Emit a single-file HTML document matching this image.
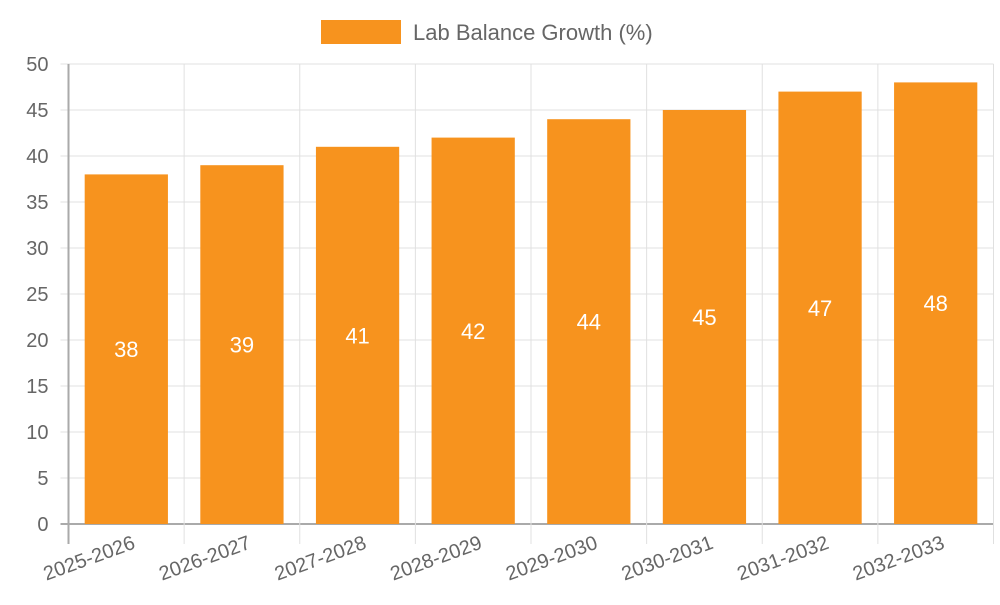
<!DOCTYPE html>
<html><head><meta charset="utf-8"><style>
body{margin:0;background:#fff}
svg text{font-family:"Liberation Sans",sans-serif}
</style></head><body>
<svg id="chart" width="1000" height="600" xmlns="http://www.w3.org/2000/svg">
<rect x="321" y="20" width="80" height="24" fill="#F7931E"/>
<text x="413" y="40" font-size="22" fill="#666">Lab Balance Growth (%)</text>
<g id="grid"></g><g id="bars"></g><g id="labels"></g>
</svg>
<script>
const categories=["2025-2026","2026-2027","2027-2028","2028-2029","2029-2030","2030-2031","2031-2032","2032-2033"];
const values=[38,39,41,42,44,45,47,48];
const yTicks=[0,5,10,15,20,25,30,35,40,45,50];
const NS="http://www.w3.org/2000/svg";
const L=68.5,R=993.5,T=64,B=524,yMax=50;
const bw=(R-L)/categories.length;
const y=v=>B-(v/yMax)*(B-T);
const x=i=>L+i*bw;
function mk(tag,attrs,parent,txt){const e=document.createElementNS(NS,tag);for(const k in attrs)e.setAttribute(k,attrs[k]);if(txt!==undefined)e.textContent=txt;document.getElementById(parent).appendChild(e);return e;}
yTicks.forEach(t=>{
 const l=mk('line',{x1:L-8,x2:R,y1:y(t),y2:y(t),stroke:t===0?'#aaa':'#e0e0e0','stroke-width':t===0?2:1},'grid');
 
 
 const tx=mk('text',{x:L-20,y:y(t)+7,'text-anchor':'end','font-size':20,fill:'#666'},'grid',t);
 
 
});
for(let i=0;i<=categories.length;i++){
 const l=mk('line',{x1:x(i),x2:x(i),y1:T,y2:B+20,stroke:i===0?'#aaa':'#e0e0e0','stroke-width':i===0?2:1},'grid');
 
 
}
categories.forEach((c,i)=>{
 const w=bw*0.72,cx=x(i)+bw/2;
 const r=mk('rect',{x:cx-w/2,y:y(values[i]),width:w,height:B-y(values[i]),fill:'#F7931E'},'bars');
 
 
 const v=mk('text',{x:cx,y:(y(values[i])+B)/2+8,'text-anchor':'middle','font-size':22,fill:'#fff'},'labels',values[i]);
 
 
 const lx=cx+10,ly=548;
 const t=mk('text',{x:lx,y:ly,'text-anchor':'end','font-size':20,fill:'#666',transform:`rotate(-20 ${lx} ${ly})`},'labels',c);
 
 
});
</script>
</body></html>
